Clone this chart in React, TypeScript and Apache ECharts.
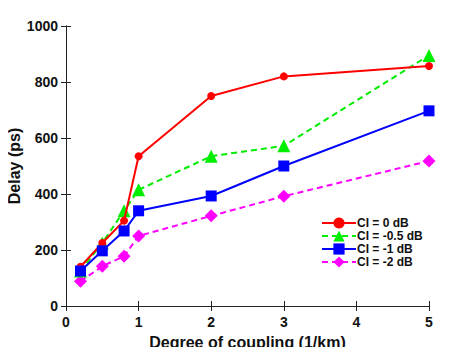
import React, { useEffect, useRef } from "react";
import * as echarts from "echarts";

const xValues = [0.2, 0.5, 0.8, 1, 2, 3, 5];
const ci0 = [140, 225, 305, 535, 750, 820, 857];
const ci05 = [125, 225, 340, 415, 535, 572, 895];
const ci1 = [125, 197, 268, 340, 393, 500, 697];
const ci2 = [88, 142, 178, 250, 322, 392, 518];
const seriesNames = ["CI = 0 dB", "CI = -0.5 dB", "CI = -1 dB", "CI = -2 dB"];

const FONT = "'Liberation Sans', Arial, sans-serif";

export default function App() {
  const ref = useRef<HTMLDivElement>(null);
  useEffect(() => {
    if (!ref.current) return;
    const chart = echarts.init(ref.current, undefined, { renderer: "svg" });
    const pts = (ys: number[]) => xValues.map((x, i) => [x, ys[i]]);
    const axisCommon = {
      axisLine: { show: true, lineStyle: { color: "#222", width: 1 } },
      axisTick: { show: true, inside: true, length: 5, lineStyle: { color: "#222" } },
      splitLine: { show: false },
    };
    chart.setOption({
      animation: false,
      backgroundColor: "#fff",
      textStyle: { fontFamily: FONT },
      grid: { left: 66, right: 45, top: 26, bottom: 49, show: false, containLabel: false, outerBoundsMode: "none" },
      xAxis: [
        {
          type: "value",
          min: 0,
          max: 5,
          interval: 1,
          ...axisCommon,
          axisLabel: { color: "#111", fontSize: 14, fontWeight: "bold", margin: 9, fontFamily: FONT, formatter: (v: number) => String(v) },
          name: "Degree of coupling (1/km)",
          nameLocation: "middle",
          nameGap: 28,
          nameMoveOverlap: false,
          nameTextStyle: { color: "#111", fontSize: 16, fontWeight: "bold", fontFamily: FONT },
        },
        {
          type: "value",
          position: "top",
          min: 0,
          max: 5,
          interval: 1,
          ...axisCommon,
          axisLabel: { show: false },
        },
      ],
      yAxis: [
        {
          type: "value",
          min: 0,
          max: 1000,
          interval: 200,
          ...axisCommon,
          axisLabel: { color: "#111", fontSize: 14, fontWeight: "bold", margin: 8, fontFamily: FONT, formatter: (v: number) => String(v) },
          name: "Delay (ps)",
          nameLocation: "middle",
          nameGap: 44,
          nameMoveOverlap: false,
          nameTextStyle: { color: "#111", fontSize: 16, fontWeight: "bold", fontFamily: FONT },
        },
        {
          type: "value",
          position: "right",
          min: 0,
          max: 1000,
          interval: 200,
          ...axisCommon,
          axisLabel: { show: false },
        },
      ],
      legend: {
        left: 316,
        top: 212,
        orient: "vertical",
        itemWidth: 34,
        itemHeight: 14,
        itemGap: 1,
        textStyle: { color: "#111", fontSize: 12, fontWeight: "bold", fontFamily: FONT, padding: [0, 0, 0, -4] },
        data: seriesNames,
      },
      series: [
        {
          name: seriesNames[0],
          type: "line",
          data: pts(ci0),
          color: "#ff0000",
          lineStyle: { width: 2, type: "solid" },
          symbol: "circle",
          symbolSize: 8,
          z: 4,
        },
        {
          name: seriesNames[1],
          type: "line",
          data: pts(ci05),
          color: "#00ee00",
          lineStyle: { width: 2, type: [6, 4] },
          symbol: "triangle",
          symbolSize: 13,
          z: 3,
        },
        {
          name: seriesNames[2],
          type: "line",
          data: pts(ci1),
          color: "#0000ff",
          lineStyle: { width: 2, type: "solid" },
          symbol: "rect",
          symbolSize: 11,
          z: 5,
        },
        {
          name: seriesNames[3],
          type: "line",
          data: pts(ci2),
          color: "#ff00ff",
          lineStyle: { width: 2, type: [6, 4] },
          symbol: "diamond",
          symbolSize: 13,
          z: 2,
        },
      ],
    });
    return () => chart.dispose();
  }, []);
  return <div ref={ref} style={{ width: 474, height: 355, margin: -8 }} />;
}
